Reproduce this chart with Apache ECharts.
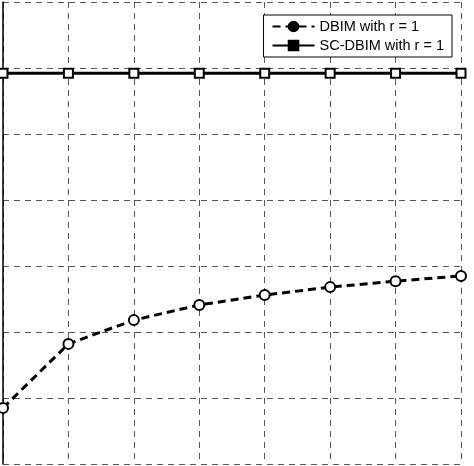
<!DOCTYPE html>
<html>
<head>
<meta charset="utf-8">
<script src="https://cdn.jsdelivr.net/npm/echarts@6/dist/echarts.min.js"></script>
<style>html,body{margin:0;padding:0;background:#fff}#main{width:474px;height:466px}</style>
</head>
<body>
<div id="main"></div>
<script>
// data
var xs = [0, 1, 2, 3, 4, 5, 6, 7]
var dbim = [0.85, 1.82, 2.18, 2.41, 2.56, 2.68, 2.77, 2.85]
var scdbim = [5.92, 5.92, 5.92, 5.92, 5.92, 5.92, 5.92, 5.92]

function pairs (vals) {
  return xs.map(function (x, i) { return [x, vals[i]] })
}

var chart = echarts.init(document.getElementById('main'))
var dashed = { show: true, lineStyle: { color: '#555', type: [6, 5], width: 1 } }
chart.setOption({
  animation: false,
  grid: { left: 3, right: 13, top: 2, bottom: 2 },
  xAxis: {
    type: 'value', min: 0, max: 7, interval: 1,
    axisLabel: { show: false }, axisTick: { show: false }, axisLine: { show: false },
    splitLine: dashed
  },
  yAxis: {
    type: 'value', min: 0, max: 7, interval: 1, position: 'right',
    axisLabel: { show: false }, axisTick: { show: false },
    axisLine: { show: true, lineStyle: { color: '#000', width: 1.5 } },
    splitLine: dashed
  },
  legend: {
    right: 22, top: 15, orient: 'vertical',
    backgroundColor: '#fff', borderColor: '#000', borderWidth: 1, borderRadius: 0,
    padding: [4, 8, 4, 8], itemGap: 4, itemWidth: 42, itemHeight: 12,
    textStyle: { fontFamily: 'Liberation Sans', fontSize: 14.5, color: '#000' },
    data: [
      { name: 'DBIM with r = 1', itemStyle: { color: '#000' } },
      { name: 'SC-DBIM with r = 1', itemStyle: { color: '#000' } }
    ]
  },
  series: [
    {
      name: 'DBIM with r = 1', type: 'line', data: pairs(dbim),
      symbol: 'circle', symbolSize: 10,
      lineStyle: { color: '#000', width: 3, type: [8, 5] },
      itemStyle: { color: '#fff', borderColor: '#000', borderWidth: 2 }
    },
    {
      name: 'SC-DBIM with r = 1', type: 'line', data: pairs(scdbim),
      symbol: 'rect', symbolSize: 9,
      lineStyle: { color: '#000', width: 3 },
      itemStyle: { color: '#fff', borderColor: '#000', borderWidth: 2 }
    }
  ]
})
</script>
</body>
</html>
